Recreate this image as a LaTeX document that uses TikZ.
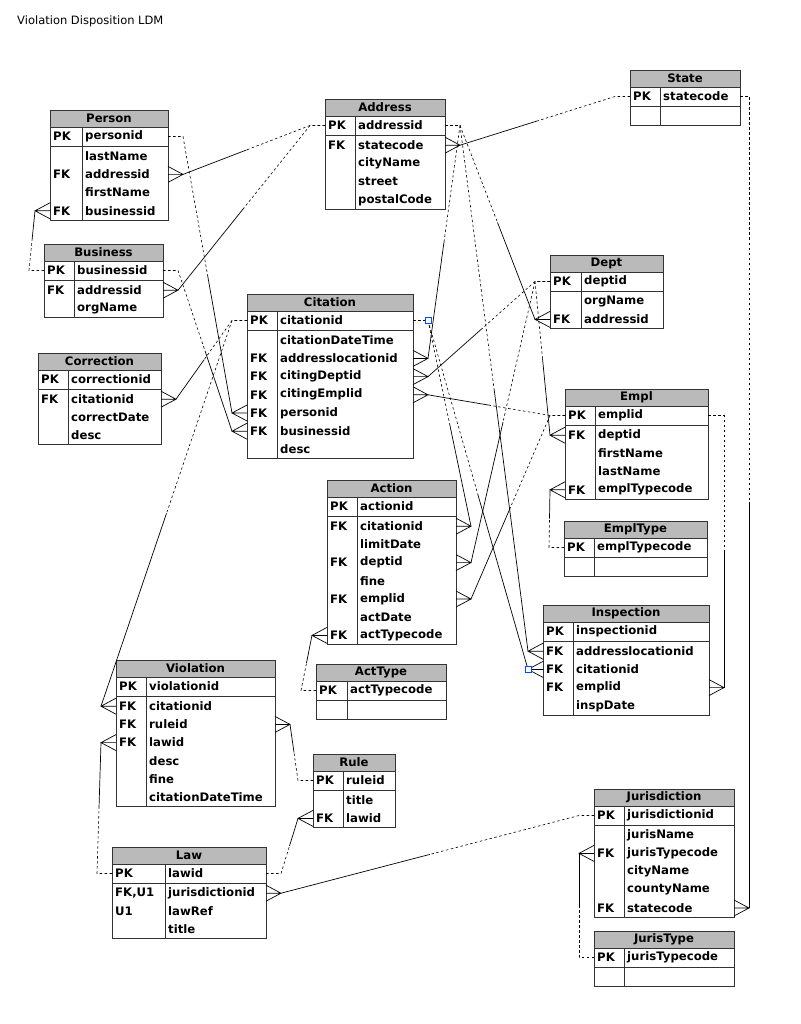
\documentclass[tikz,border=0pt]{standalone}
\usepackage{fontspec}
\setmainfont{DejaVu Sans}
\usetikzlibrary{calc}
\tikzset{
  x=1pt,y=-1pt,
  txt/.style={font=\bfseries\fontsize{11.7}{12}\selectfont,anchor=west,inner sep=0pt},
  ttl/.style={font=\bfseries\fontsize{11.7}{12}\selectfont,inner sep=0pt},
  frame/.style={draw=black!80,line width=0.9pt},
  dsh/.style={line width=0.6pt,dash pattern=on 2.5pt off 2.5pt},
  sol/.style={line width=0.7pt},
  bluesq/.style={draw=blue!70!cyan,line width=0.7pt,fill=white}
}
\newcommand\ent[7]{%
  \foreach \k/\f [count=\i] in {#7}{\xdef\nrows{\i}}%
  \pgfmathsetmacro\eb{#3+17+\nrows*18.2+2}%
  \fill[white] (#2,#3) rectangle (#2+#4,\eb);
  \fill[black!27] (#2,#3) rectangle (#2+#4,#3+17);
  \draw[frame] (#2,#3) rectangle (#2+#4,\eb);
  \draw[frame] (#2,#3+17) -- (#2+#4,#3+17);
  \draw[frame] (#2,#3+17+18.2+1) -- (#2+#4,#3+17+18.2+1);
  \draw[frame] (#2+#5,#3+17) -- (#2+#5,\eb);
  \node[ttl] (#1-t) at (#2+#4/2,#3+8.5) {#6};
  \foreach \k/\f [count=\i] in {#7}{%
    \pgfmathsetmacro\ry{#3+17+9.5+(\i-1)*18.2+(\i>1)*1.5}%
    \node[txt] (#1-\i-k) at (#2+3,\ry) {\k};
    \node[txt] (#1-\i-f) at (#2+#5+3,\ry) {\f};
    \coordinate (#1-\i-l) at (#2,\ry);
    \coordinate (#1-\i-r) at (#2+#4,\ry);
  }%
}
\newcommand\crowr[1]{%
  \coordinate (#1-c) at ($(#1-r)+(15,0)$);
  \draw[sol] ($(#1-r)+(0,-8)$) -- (#1-c) -- ($(#1-r)+(0,8)$) (#1-r) -- (#1-c);}
\newcommand\crowl[1]{%
  \coordinate (#1-c) at ($(#1-l)+(-15,0)$);
  \draw[sol] ($(#1-l)+(0,-8)$) -- (#1-c) -- ($(#1-l)+(0,8)$) (#1-l) -- (#1-c);}
\newcommand\rel[3]{%
  \coordinate (rb) at #2; \coordinate (re) at #3;
  \draw[dsh] #1 -- (rb) -- ($(rb)!.5!(re)$);
  \draw[sol] ($(rb)!.5!(re)$) -- (re);}
\begin{document}
\begin{tikzpicture}
\useasboundingbox (0,0) rectangle (800,1024);
\fill[white] (0,0) rectangle (800,1024);
\node[anchor=west,inner sep=0pt,font=\fontsize{11.5}{12}\selectfont] (title) at (17,21) {Violation Disposition LDM};

\ent{person}{50}{110}{118}{32}{Person}{PK/personid,/lastName,FK/addressid,/firstName,FK/businessid}
\ent{address}{325}{99}{120}{30}{Address}{PK/addressid,FK/statecode,/cityName,/street,/postalCode}
\ent{state}{630}{70}{110}{30}{State}{PK/statecode,/}
\ent{business}{44}{244}{119}{30}{Business}{PK/businessid,FK/addressid,/orgName}
\ent{citation}{247}{294}{166}{30}{Citation}{PK/citationid,/citationDateTime,FK/addresslocationid,FK/citingDeptid,FK/citingEmplid,FK/personid,FK/businessid,/desc}
\ent{correction}{38}{353}{123}{30}{Correction}{PK/correctionid,FK/citationid,/correctDate,/desc}
\ent{dept}{550}{255}{113}{31}{Dept}{PK/deptid,/orgName,FK/addressid}
\ent{empl}{565}{389}{143}{30}{Empl}{PK/emplid,FK/deptid,/firstName,/lastName,FK/emplTypecode}
\ent{empltype}{564}{521}{143}{30}{EmplType}{PK/emplTypecode,/}
\ent{action}{327}{480}{129}{30}{Action}{PK/actionid,FK/citationid,/limitDate,FK/deptid,/fine,FK/emplid,/actDate,FK/actTypecode}
\ent{acttype}{316}{664}{130}{31}{ActType}{PK/actTypecode,/}
\ent{inspection}{543}{605}{166}{30}{Inspection}{PK/inspectionid,FK/addresslocationid,FK/citationid,FK/emplid,/inspDate}
\ent{violation}{116}{660}{159}{30}{Violation}{PK/violationid,FK/citationid,FK/ruleid,FK/lawid,/desc,/fine,/citationDateTime}
\ent{rule}{313}{754}{82}{30}{Rule}{PK/ruleid,/title,FK/lawid}
\ent{law}{112}{847}{154}{53}{Law}{PK/lawid,{FK,U1}/jurisdictionid,U1/lawRef,/title}
\ent{jurisdiction}{594}{789}{140}{30}{Jurisdiction}{PK/jurisdictionid,/jurisName,FK/jurisTypecode,/cityName,/countyName,FK/statecode}
\ent{juristype}{594}{931}{140}{30}{JurisType}{PK/jurisTypecode,/}

\crowr{person-3}\crowr{business-2}\crowl{dept-3}
\crowr{citation-3}\crowr{citation-4}\crowr{citation-5}
\crowl{citation-6}\crowl{citation-7}\crowr{address-2}
\crowr{jurisdiction-6}\crowl{person-5}\crowr{correction-2}
\crowl{violation-2}\crowl{violation-4}\crowr{violation-3}
\crowr{action-2}\crowr{action-4}\crowr{action-6}\crowl{action-8}
\crowl{inspection-2}\crowl{inspection-3}\crowr{inspection-4}
\crowl{empl-2}\crowl{empl-5}\crowl{rule-3}\crowr{law-2}\crowl{jurisdiction-3}

\rel{(address-1-l)}{($(address-1-l)+(-15,0)$)}{(person-3-c)}
\rel{(address-1-l)}{($(address-1-l)+(-15,0)$)}{(business-2-c)}
\rel{(address-1-r)}{($(address-1-r)+(15,0)$)}{(dept-3-c)}
\rel{(address-1-r)}{($(address-1-r)+(15,0)$)}{(citation-3-c)}
\rel{(address-1-r)}{($(address-1-r)+(15,0)$)}{(inspection-2-c)}
\rel{(state-1-l)}{($(state-1-l)+(-15,0)$)}{(address-2-c)}
\rel{(state-1-r)}{($(state-1-r)+(9,0)$)}{(jurisdiction-6-c)}
\rel{(person-1-r)}{($(person-1-r)+(15,0)$)}{(citation-6-c)}
\rel{(business-1-r)}{($(business-1-r)+(15,0)$)}{(citation-7-c)}
\rel{(business-1-l)}{($(business-1-l)+(-15,0)$)}{(person-5-c)}
\rel{(citation-1-l)}{($(citation-1-l)+(-15,0)$)}{(correction-2-c)}
\rel{(citation-1-l)}{($(citation-1-l)+(-15,0)$)}{(violation-2-c)}
\rel{(citation-1-r)}{($(citation-1-r)+(15,0)$)}{(action-2-c)}
\rel{(citation-1-r)}{($(citation-1-r)+(15,0)$)}{(inspection-3-c)}
\rel{(dept-1-l)}{($(dept-1-l)+(-15,0)$)}{(citation-4-c)}
\rel{(dept-1-l)}{($(dept-1-l)+(-15,0)$)}{(action-4-c)}
\rel{(dept-1-l)}{($(dept-1-l)+(-15,0)$)}{(empl-2-c)}
\rel{(empl-1-l)}{($(empl-1-l)+(-15,0)$)}{(citation-5-c)}
\rel{(empl-1-l)}{($(empl-1-l)+(-15,0)$)}{(action-6-c)}
\rel{(empl-1-r)}{($(empl-1-r)+(16,0)$)}{(inspection-4-c)}
\rel{(empltype-1-l)}{($(empltype-1-l)+(-15,0)$)}{(empl-5-c)}
\rel{(acttype-1-l)}{($(acttype-1-l)+(-15,0)$)}{(action-8-c)}
\rel{(rule-1-l)}{($(rule-1-l)+(-15,0)$)}{(violation-3-c)}
\rel{(law-1-l)}{($(law-1-l)+(-15,0)$)}{(violation-4-c)}
\rel{(law-1-r)}{($(law-1-r)+(15,0)$)}{(rule-3-c)}
\rel{(jurisdiction-1-l)}{($(jurisdiction-1-l)+(-15,0)$)}{(law-2-c)}
\rel{(juristype-1-l)}{($(juristype-1-l)+(-15,0)$)}{(jurisdiction-3-c)}

\draw[bluesq] ($(citation-1-r)+(12,-3)$) rectangle ++(6,6);
\draw[bluesq] ($(inspection-3-l)+(-18,-3)$) rectangle ++(6,6);
\end{tikzpicture}
\end{document}
